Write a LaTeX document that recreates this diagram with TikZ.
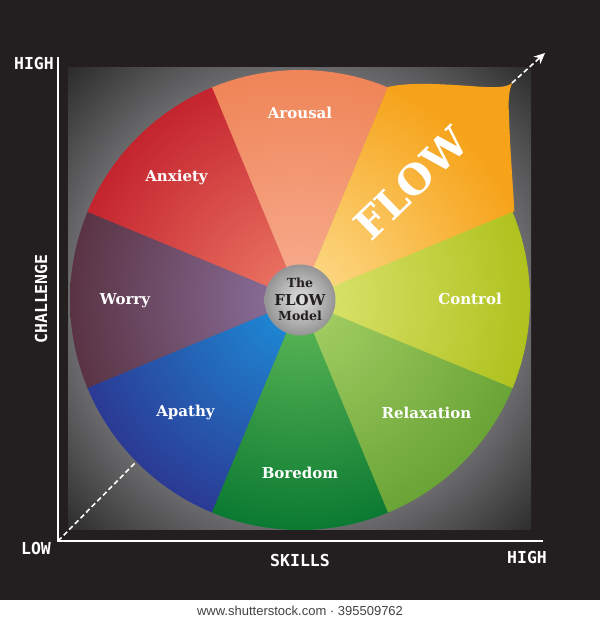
\documentclass[tikz,border=0pt]{standalone}
\usepackage{fontspec}
\setmainfont{DejaVu Serif}
\newfontfamily\axisfont{DejaVu Sans Mono}
\newfontfamily\creditfont{Liberation Sans}
\usetikzlibrary{arrows.meta}

\definecolor{bg}{HTML}{231F20}
\definecolor{arIn}{HTML}{F8AE92}\definecolor{arOut}{HTML}{EF8558}
\definecolor{flIn}{HTML}{FDDE90}\definecolor{flOut}{HTML}{F6A31A}
\definecolor{coIn}{HTML}{DEE674}\definecolor{coOut}{HTML}{AFC21E}
\definecolor{reIn}{HTML}{A8D268}\definecolor{reOut}{HTML}{6AA436}
\definecolor{boIn}{HTML}{60BA58}\definecolor{boOut}{HTML}{0B7A32}
\definecolor{apIn}{HTML}{1C92DC}\definecolor{apOut}{HTML}{2B3A94}
\definecolor{woIn}{HTML}{8E74A2}\definecolor{woOut}{HTML}{5A3444}
\definecolor{anIn}{HTML}{EE7C68}\definecolor{anOut}{HTML}{C4242E}
\definecolor{hubIn}{HTML}{E2E2E2}\definecolor{hubOut}{HTML}{949494}
\definecolor{boxA}{HTML}{7A7A7C}\definecolor{boxB}{HTML}{6A6A6C}\definecolor{boxC}{HTML}{2A2A2B}

\pgfdeclareradialshading{shAr}{\pgfpoint{0bp}{0bp}}{color(0bp)=(arIn); color(25bp)=(arOut); color(50bp)=(arOut)}
\pgfdeclareradialshading{shFl}{\pgfpoint{0bp}{0bp}}{color(0bp)=(flIn); color(19bp)=(flOut); color(50bp)=(flOut)}
\pgfdeclareradialshading{shCo}{\pgfpoint{0bp}{0bp}}{color(0bp)=(coIn); color(25bp)=(coOut); color(50bp)=(coOut)}
\pgfdeclareradialshading{shRe}{\pgfpoint{0bp}{0bp}}{color(0bp)=(reIn); color(25bp)=(reOut); color(50bp)=(reOut)}
\pgfdeclareradialshading{shBo}{\pgfpoint{0bp}{0bp}}{color(0bp)=(boIn); color(25bp)=(boOut); color(50bp)=(boOut)}
\pgfdeclareradialshading{shAp}{\pgfpoint{0bp}{0bp}}{color(0bp)=(apIn); color(25bp)=(apOut); color(50bp)=(apOut)}
\pgfdeclareradialshading{shWo}{\pgfpoint{0bp}{0bp}}{color(0bp)=(woIn); color(25bp)=(woOut); color(50bp)=(woOut)}
\pgfdeclareradialshading{shAn}{\pgfpoint{0bp}{0bp}}{color(0bp)=(anIn); color(25bp)=(anOut); color(50bp)=(anOut)}
\pgfdeclareradialshading{shHub}{\pgfpoint{0bp}{0bp}}{color(0bp)=(hubIn); color(25bp)=(hubOut); color(50bp)=(hubOut)}
\pgfdeclareradialshading{shBox}{\pgfpoint{0bp}{0bp}}{color(0bp)=(boxA); color(17.4bp)=(boxB); color(25bp)=(boxC); color(50bp)=(boxC)}

\newcommand\wheelslice[3]{%
  \begin{scope}
    \clip (O) -- +(#2:231pt) arc[start angle=#2, end angle=#3, radius=231pt] -- cycle;
    \shade[shading=#1] (O) circle[radius=230pt];
  \end{scope}}

\tikzset{
  lbl/.style={text=white, font=\bfseries\fontsize{15}{18}\selectfont, inner sep=0pt},
  hubtxt/.style={text=bg, font=\bfseries\fontsize{12.5}{14}\selectfont, inner sep=0pt, anchor=base},
  axl/.style={text=white, font=\axisfont\bfseries\fontsize{16.5}{18}\selectfont, inner sep=0pt},
  axis/.style={draw=white, line width=1.6pt},
  dashy/.style={draw=white, line width=1.6pt, dash pattern=on 5pt off 3pt},
}

\begin{document}
\begin{tikzpicture}[x=1pt,y=1pt]
\useasboundingbox (0,0) rectangle (600,620);
\fill[white] (0,0) rectangle (600,20);
\fill[bg] (0,20) rectangle (600,620);
\coordinate (O) at (300,320);
% grey panel
\begin{scope}
  \clip (68,90) rectangle (531,552);
  \shade[shading=shBox] (O) circle[radius=330pt];
\end{scope}
% wheel
\wheelslice{shAr}{67.5}{113}
\wheelslice{shAn}{112.5}{158}
\wheelslice{shWo}{157.5}{203}
\wheelslice{shAp}{202.5}{248}
\wheelslice{shBo}{247.5}{293}
\wheelslice{shRe}{292.5}{338}
\wheelslice{shCo}{337.5}{383}
\begin{scope}
  \clip (O) -- (388,533) .. controls (410,538) and (440,536) .. (470,534)
    .. controls (495,532) and (508,532) .. (513,538)
    .. controls (509,532) and (508,520) .. (509,505)
    .. controls (510,470) and (513,435) .. (514.3,408.8) -- cycle;
  \shade[shading=shFl] (O) circle[radius=305pt];
\end{scope}
% hub
\node[circle, minimum size=71pt, inner sep=0pt, shading=shHub] (hub) at (O) {};
\node[hubtxt] (hubThe) at (300,332.7) {The};
\node[hubtxt, font=\bfseries\fontsize{15}{16}\selectfont] (hubFlow) at (300,314) {FLOW};
\node[hubtxt] (hubModel) at (300,299.3) {Model};
% labels
\node[lbl, anchor=base] (arousal) at (300,501) {Arousal};
\node[lbl, anchor=base] (anxiety) at (176.5,438) {Anxiety};
\node[lbl, anchor=base] (worry) at (125,315) {Worry};
\node[lbl, anchor=base] (control) at (470,315) {Control};
\node[lbl, anchor=base] (apathy) at (185.5,203) {Apathy};
\node[lbl, anchor=base] (relax) at (426.5,201) {Relaxation};
\node[lbl, anchor=base] (boredom) at (300,141) {Boredom};
\node[lbl, font=\bfseries\fontsize{41}{45}\selectfont, rotate=44] (flow) at (411,437) {FLOW};
% axes
\coordinate (origin) at (58,79);
\coordinate (ytop) at (58,563);
\coordinate (xend) at (543,79);
\draw[axis] (ytop) -- (origin) -- (xend);
\coordinate (dlow) at (135,157);
\coordinate (dhs) at (512,537);
\coordinate (dhe) at (545,567);
\draw[dashy] (origin) -- (dlow);
\draw[dashy, -{Stealth[length=11pt, width=10pt]}] (dhs) -- (dhe);
\node[axl] (highY) at (34,556) {HIGH};
\node[axl] (low) at (36,72) {LOW};
\node[axl] (skills) at (300,60) {SKILLS};
\node[axl] (highX) at (527,63) {HIGH};
\node[axl, rotate=90] (challenge) at (41,321) {CHALLENGE};
\node[text=bg!85, font=\creditfont\fontsize{13}{15}\selectfont, inner sep=0pt] (credit) at (300,9.5) {www.shutterstock.com · 395509762};
\end{tikzpicture}
\end{document}
